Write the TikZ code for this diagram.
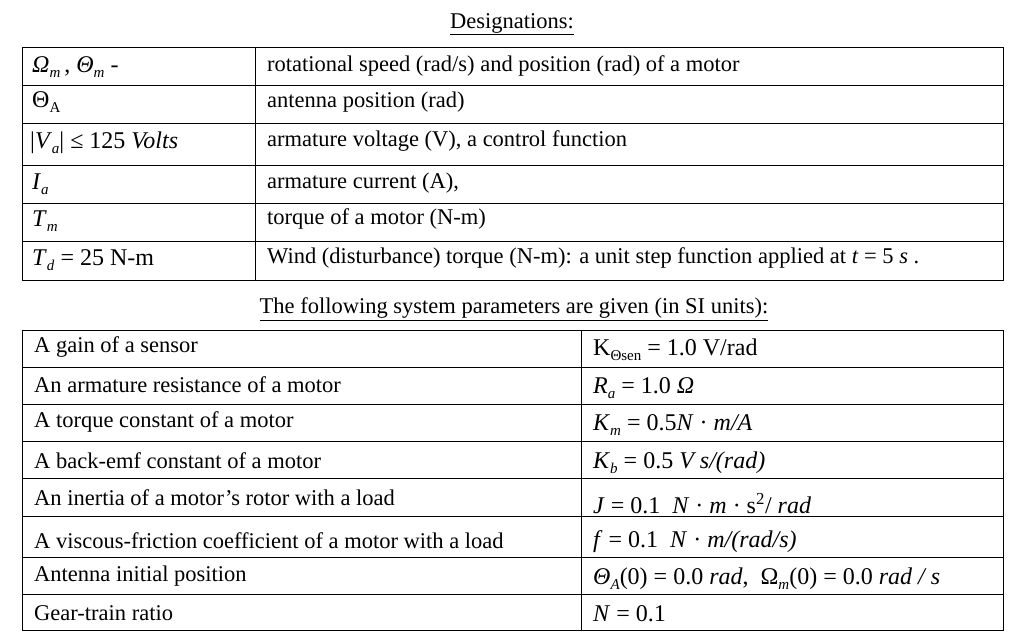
\documentclass[tikz,border=0pt]{standalone}
\usepackage{fontspec}
\setmainfont{Liberation Serif}
\newcommand{\sbx}[1]{\raisebox{-0.45ex}{\fontsize{15}{15}\selectfont #1}}
\begin{document}
\begin{tikzpicture}[x=1pt,y=-1pt,
  cell/.style={anchor=west,inner sep=0pt,font=\fontsize{22.5}{26}\selectfont},
  big/.style={anchor=west,inner sep=0pt,font=\fontsize{24}{28}\selectfont},
  ttl/.style={anchor=center,inner sep=0pt,font=\fontsize{22.5}{26}\selectfont},
  grid/.style={line width=0.8pt}]
\useasboundingbox (0,0) rectangle (1024,643);
\node[ttl] (t1) at (512,24) {\underline{Designations:}};
% table 1
\draw[grid] (22,47) rectangle (1003,280);
\foreach \y in {85,123,165,203,241} \draw[grid] (22,\y) -- (1003,\y);
\draw[grid] (255,47) -- (255,280);
\node[big] (a1) at (32,67) {\textit{Ω}\sbx{\textit{m}}\,, \textit{Θ}\sbx{\textit{m}} -};
\node[big] (a2) at (32,102) {Θ\sbx{A}};
\node[big] (a3) at (30,143) {|\textit{V}\sbx{\textit{a}}| ≤ 125 \textit{Volts}};
\node[big] (a4) at (32,184) {\textit{I}\sbx{\textit{a}}};
\node[big] (a5) at (32,221) {\textit{T}\sbx{\textit{m}}};
\node[big] (a6) at (32,260) {\textit{T}\sbx{\textit{d}} = 25 N-m};
\node[cell] (b1) at (267,66) {rotational speed (rad/s) and position (rad) of a motor};
\node[cell] (b2) at (267,102) {antenna position (rad)};
\node[cell] (b3) at (267,141) {armature voltage (V), a control function};
\node[cell] (b4) at (267,183) {armature current (A),};
\node[cell] (b5) at (267,219) {torque of a motor (N-m)};
\node[cell] (b6) at (267,258) {Wind (disturbance) torque (N-m): a unit step function applied at \textit{t} = 5 \textit{s} .};
% table 2
\node[ttl] (t2) at (514,309) {\underline{The following system parameters are given (in SI units):}};
\draw[grid] (22,330) rectangle (1003,630);
\foreach \y in {367,404,441,478,516,557,594} \draw[grid] (22,\y) -- (1003,\y);
\draw[grid] (581,330) -- (581,630);
\node[cell] (c1) at (34,347) {A gain of a sensor};
\node[cell] (c2) at (34,385) {An armature resistance of a motor};
\node[cell] (c3) at (34,422) {A torque constant of a motor};
\node[cell] (c4) at (34,461) {A back-emf constant of a motor};
\node[cell] (c5) at (34,498) {An inertia of a motor’s rotor with a load};
\node[cell] (c6) at (34,541) {A viscous-friction coefficient of a motor with a load};
\node[cell] (c7) at (34,576) {Antenna initial position};
\node[cell] (c8) at (34,613) {Gear-train ratio};
\node[big] (d1) at (593,350) {K\sbx{Θsen} = 1.0 V/rad};
\node[big] (d2) at (593,388) {\textit{R}\sbx{\textit{a}} = 1.0 \textit{Ω}};
\node[big] (d3) at (593,425) {\textit{K}\sbx{\textit{m}} = 0.5\textit{N} · \textit{m/A}};
\node[big] (d4) at (593,463) {\textit{K}\sbx{\textit{b}} = 0.5 \textit{V s/(rad)}};
\node[big] (d5) at (593,504) {\textit{J} = 0.1 \ \textit{N} · \textit{m} · s\textsuperscript{2}/ \textit{rad}};
\node[big] (d6) at (593,542) {\textit{f} = 0.1 \ \textit{N} · \textit{m/(rad/s)}};
\node[big] (d7) at (593,579) {\textit{Θ}\sbx{\textit{A}}(0) = 0.0 \textit{rad}, \ Ω\sbx{\textit{m}}(0) = 0.0 \textit{rad / s}};
\node[big] (d8) at (593,614) {\textit{N} = 0.1};
\end{tikzpicture}
\end{document}
